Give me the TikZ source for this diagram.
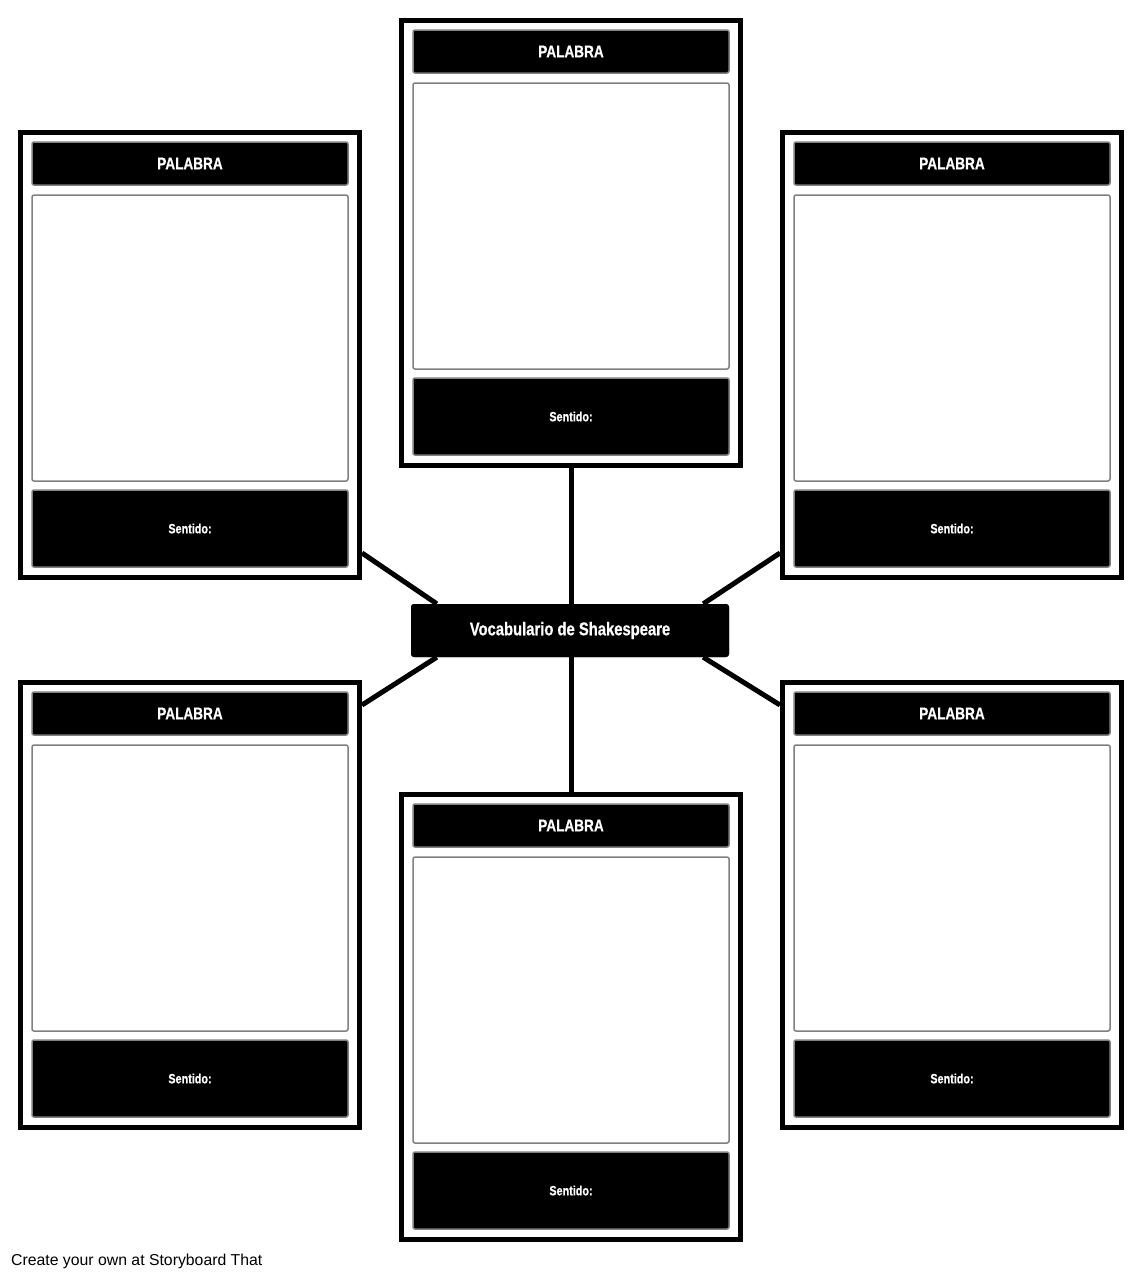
\documentclass[tikz,border=0pt]{standalone}
\usepackage{fontspec}
\setmainfont{Liberation Sans}
\newfontfamily\cond[FakeStretch=0.8,BoldFeatures={FakeBold=0.6}]{Liberation Sans}
\usetikzlibrary{calc}
\tikzset{
  frame/.style={draw=black,line width=5pt,fill=white,minimum width=339pt,minimum height=445pt,inner sep=0pt},
  header/.style={draw=black!50,line width=1.5pt,fill=black,rounded corners=2pt,minimum width=316pt,minimum height=43pt,inner sep=0pt,text=white,font=\cond\bfseries\fontsize{17pt}{20pt}\selectfont},
  picbox/.style={draw=black!50,line width=1.5pt,fill=white,rounded corners=2pt,minimum width=316pt,minimum height=286pt,inner sep=0pt},
  sentbox/.style={draw=black!50,line width=1.5pt,fill=black,rounded corners=2pt,minimum width=316pt,minimum height=77pt,inner sep=0pt,text=white,font=\cond\bfseries\fontsize{13.5pt}{16pt}\selectfont},
  centre/.style={fill=black,rounded corners=3pt,minimum width=318pt,minimum height=53pt,inner sep=0pt,text=white,font=\cond\bfseries\fontsize{18.5pt}{22pt}\selectfont},
  link/.style={line width=5pt,draw=black}
}
\newcommand\mycard[3]{%
  \node[frame] (#1) at (#2+172,#3+225) {};
  \node[header] (#1h) at (#2+172,#3+33.5) {PALABRA};
  \node[picbox] (#1p) at (#2+172,#3+208) {};
  \node[sentbox] (#1s) at (#2+172,#3+398.5) {Sentido:};
}
\begin{document}
\begin{tikzpicture}[x=1pt,y=-1pt]
\useasboundingbox (0,0) rectangle (1143,1278);
\node[centre] (cn) at (570,630.5) {Vocabulario de Shakespeare};
% connectors
\coordinate (a1) at (362,553);
\coordinate (a2) at (780,553);
\coordinate (a3) at (362,705);
\coordinate (a4) at (780,705);
\draw[link] (a1) -- ($(cn.north west)+(26,0)$);
\draw[link] (a2) -- ($(cn.north east)+(-26,0)$);
\draw[link] (a3) -- ($(cn.south west)+(26,0)$);
\draw[link] (a4) -- ($(cn.south east)+(-26,0)$);
\mycard{ct}{399}{18}
\mycard{lt}{18}{130}
\mycard{rt}{780}{130}
\mycard{lb}{18}{680}
\mycard{cb}{399}{792}
\mycard{rb}{780}{680}
\draw[link] (ct.south) -- (ct.south |- cn.north);
\draw[link] (cb.north |- cn.south) -- (cb.north);
\node[centre] at (cn) {Vocabulario de Shakespeare};
\node[anchor=base west,inner sep=0pt,font=\fontsize{15.8pt}{18pt}\selectfont] (ft) at (11,1265) {Create your own at Storyboard That};
\end{tikzpicture}
\end{document}
